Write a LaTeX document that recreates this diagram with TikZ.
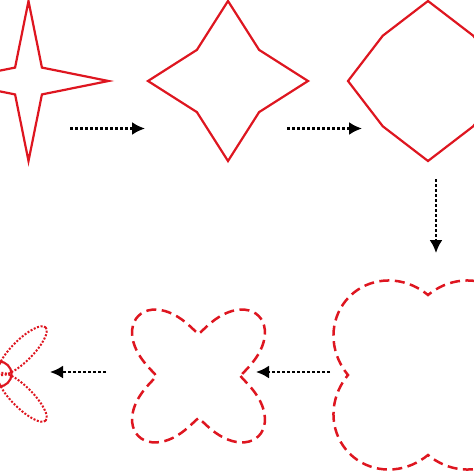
\documentclass[tikz,border=0pt]{standalone}
\usetikzlibrary{arrows.meta}
\definecolor{shapered}{RGB}{222,22,32}
\tikzset{>={Latex[length=13pt,width=13pt]}}
\tikzset{
  outline/.style={shapered,line width=2.2pt,line join=miter},
  dashline/.style={shapered,line width=2.5pt,dash pattern=on 10pt off 5.5pt},
  petal/.style={shapered,line width=2pt,dash pattern=on 2pt off 1.6pt},
  morph/.style={->,black,line width=2.3pt,dash pattern=on 3pt off 2pt}
}

\begin{document}
\begin{tikzpicture}[x=1pt,y=-1pt]
  \clip (0,0) rectangle (474,474);
  \draw[outline,shift={(28.5,81)}] (0:80) -- (45:19) -- (90:80) -- (135:19)
    -- (180:80) -- (225:19) -- (270:80) -- (315:19) -- cycle;
  \draw[outline,shift={(228,81)}] (0:80) -- (45:44) -- (90:80) -- (135:44)
    -- (180:80) -- (225:44) -- (270:80) -- (315:44) -- cycle;
  \draw[outline,shift={(428,81)}] (0:80) -- (45:64) -- (90:80) -- (135:64)
    -- (180:80) -- (225:64) -- (270:80) -- (315:64) -- cycle;

  \draw[dashline,shift={(428,375)}] plot[domain=0:360,samples=145]
    (\x:{80+33*abs(sin(2*\x))-2*sin(2*\x)*sin(2*\x)}) -- cycle;
  \draw[dashline,shift={(198.5,376)}] plot[domain=0:360,samples=145]
    (\x:{42+17*abs(sin(2*\x))+26*sin(2*\x)*sin(2*\x)}) -- cycle;

  \draw[petal,shift={(22.3,350.7)},rotate=45] (0,0) ellipse (33 and 10.5);
  \draw[petal,shift={(22.3,397.3)},rotate=-45] (0,0) ellipse (33 and 10.5);
  \draw[outline] (-1,374) circle (12.5);

  \coordinate (r1a) at (70,128.5);
  \coordinate (r1b) at (145,128.5);
  \coordinate (r2a) at (287,128.5);
  \coordinate (r2b) at (362,128.5);
  \coordinate (dna) at (436,179);
  \coordinate (dnb) at (436,253);
  \coordinate (l1a) at (330,372);
  \coordinate (l1b) at (256,372);
  \coordinate (l2a) at (106,372);
  \coordinate (l2b) at (50,372);
  \draw[morph] (r1a) -- (r1b);
  \draw[morph] (r2a) -- (r2b);
  \draw[morph] (dna) -- (dnb);
  \draw[morph] (l1a) -- (l1b);
  \draw[morph] (l2a) -- (l2b);
\end{tikzpicture}
\end{document}
